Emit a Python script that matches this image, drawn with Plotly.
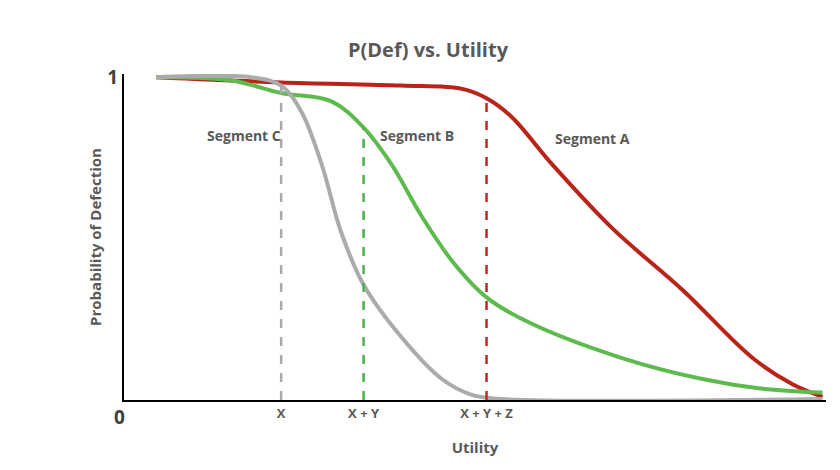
import plotly.graph_objects as go

red_x = [0.46, 2.25, 3.97, 4.84, 5.19, 5.55, 6.13, 7.0, 8.0, 9.0, 9.57, 10.0]
red_y = [1.0, 0.984, 0.974, 0.964, 0.935, 0.877, 0.73, 0.53, 0.34, 0.13, 0.049, 0.01]
green_x = [0.46, 1.54, 2.25, 2.97, 3.43, 3.83, 4.26, 4.7, 5.19, 5.8, 7.13, 8.28, 9.14, 10.0]
green_y = [1.0, 0.99, 0.951, 0.925, 0.844, 0.73, 0.57, 0.43, 0.318, 0.24, 0.13, 0.065, 0.035, 0.023]
gray_x = [0.46, 1.82, 2.25, 2.54, 2.83, 3.11, 3.43, 3.97, 4.55, 4.98, 5.41, 10.0]
gray_y = [1.0, 1.0, 0.974, 0.893, 0.73, 0.519, 0.357, 0.195, 0.065, 0.016, 0.003, 0.003]

tick_vals = [2.25, 3.43, 5.19]
tick_text = ["X", "X + Y", "X + Y + Z"]
drop_tops = [0.984, 0.844, 0.935]
drop_colors = ["#AAAAAA", "#4CAF50", "#C0281E"]

seg_labels = ["Segment C", "Segment B", "Segment A"]
seg_x = [1.72, 4.19, 6.7]
seg_y = [0.82, 0.82, 0.81]

fig = go.Figure()
for xs, ys, c in [(red_x, red_y, "#B8231A"), (green_x, green_y, "#5DBB4E"), (gray_x, gray_y, "#ABABAB")]:
    fig.add_trace(go.Scatter(x=xs, y=ys, mode="lines", line=dict(color=c, width=4, shape="spline", smoothing=1.0),
                             showlegend=False, hoverinfo="skip"))

for xv, top, c in zip(tick_vals, drop_tops, drop_colors):
    fig.add_shape(type="line", x0=xv, x1=xv, y0=0, y1=top, line=dict(color=c, width=2.5, dash="dash"))

for t, xv, yv in zip(seg_labels, seg_x, seg_y):
    fig.add_annotation(x=xv, y=yv, text="<b>%s</b>" % t, showarrow=False,
                       font=dict(size=14, color="#595959", family="Open Sans"))

fig.add_annotation(x=0, y=0, xref="paper", yref="y", text="<b>0</b>", showarrow=False,
                   xshift=-12, yshift=-17, font=dict(size=19, color="#404040", family="Open Sans"))

fig.update_layout(
    width=840, height=470, plot_bgcolor="white", paper_bgcolor="white",
    margin=dict(l=116, r=22, t=66, b=78, autoexpand=False),
    title=dict(text="<b>P(Def) vs. Utility</b>", x=0.5, xanchor="center", y=0.925,
               font=dict(size=20, color="#595959", family="Open Sans")),
    xaxis=dict(range=[0, 10.05], showgrid=False, zeroline=False, showline=True, linecolor="black", linewidth=2,
               tickvals=tick_vals, ticktext=["<b>%s</b>" % t for t in tick_text], ticks="",
               tickfont=dict(size=13, color="#595959", family="Open Sans"),
               title=dict(text="<b>Utility</b>", font=dict(size=15, color="#595959", family="Open Sans"), standoff=22)),
    yaxis=dict(range=[0, 1.01], showgrid=False, zeroline=False, showline=True, linecolor="black", linewidth=2,
               tickvals=[1], ticktext=["<b>1</b>"], ticks="",
               tickfont=dict(size=19, color="#404040", family="Open Sans"),
               title=dict(text="<b>Probability of Defection</b>", font=dict(size=15, color="#595959", family="Open Sans"), standoff=2)),
)
fig.write_html("out.html")
